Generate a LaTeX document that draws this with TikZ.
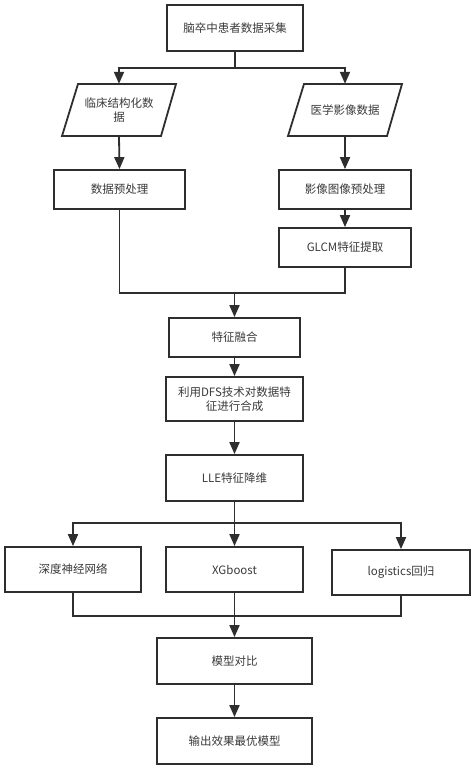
\documentclass[tikz,border=0pt]{standalone}
\usepackage{fontspec}
\setmainfont{Noto Sans CJK SC}
\usetikzlibrary{arrows.meta}
\definecolor{ink}{HTML}{2E2E2E}
\definecolor{txt}{HTML}{3A3A3A}
\begin{document}
\begin{tikzpicture}[x=1pt,y=-1pt,
  every node/.style={font=\fontsize{11.5}{13.5}\selectfont, text=txt},
  box/.style={draw=ink, line width=1.8pt, align=center, inner sep=0pt},
  para/.style={align=center, inner sep=0pt, minimum width=98pt, minimum height=52pt},
  line/.style={draw=ink, line width=1.8pt},
  arr/.style={line, -{Triangle[length=12pt,width=10pt]}}]
\useasboundingbox (0,0) rectangle (474,770);
\fill[white] (0,0) rectangle (474,770);

\node[box, minimum width=136pt, minimum height=46pt] (top) at (235,28) {脑卒中患者数据采集};

\node[para] (pl) at (119,110) {临床结构化数\\据};
\draw[line, line join=miter] (78,84) -- (176,84) -- (161,136) -- (62,136) -- cycle;
\node[para] (pr) at (345,110) {医学影像数据};
\draw[line, line join=miter] (304,84) -- (402,84) -- (387,136) -- (288,136) -- cycle;

\node[box, minimum width=131pt, minimum height=39pt] (dl) at (119.5,189.5) {数据预处理};
\node[box, minimum width=132pt, minimum height=39pt] (dr) at (345,189.5) {影像图像预处理};
\node[box, minimum width=132pt, minimum height=39pt] (glcm) at (345,247.5) {GLCM特征提取};

\node[box, minimum width=131pt, minimum height=39pt] (fuse) at (234.5,337.5) {特征融合};
\node[box, minimum width=137pt, minimum height=44pt] (dfs) at (234.5,399) {利用DFS技术对数据特\\征进行合成};
\node[box, minimum width=137pt, minimum height=46pt] (lle) at (234.5,478) {LLE特征降维};

\node[box, minimum width=136pt, minimum height=45pt] (nn) at (73,569.5) {深度神经网络};
\node[box, minimum width=137pt, minimum height=45pt] (xg) at (234.5,569.5) {XGboost};
\node[box, minimum width=138pt, minimum height=45pt] (lr) at (401,572.5) {logistics回归};

\node[box, minimum width=155pt, minimum height=46pt] (cmp) at (234.5,661) {模型对比};
\node[box, minimum width=155pt, minimum height=46pt] (out) at (234.5,741) {输出效果最优模型};

\coordinate (s1) at (235,68);
\coordinate (m1) at (234.5,293);
\coordinate (s2) at (234.5,523);
\coordinate (m2) at (234.5,616);

\draw[line] (top.south) -- (s1);
\draw[arr] (s1) -| (pl.north);
\draw[arr] (s1) -| (pr.north);
\draw[arr] (pl.south) -- (dl.north);
\draw[arr] (pr.south) -- (dr.north);
\draw[arr] (dr.south) -- (glcm.north);
\draw[line] (dl.south) |- (m1);
\draw[line] (glcm.south) |- (m1);
\draw[arr] (m1) -- (fuse.north);
\draw[arr] (fuse.south) -- (dfs.north);
\draw[arr] (dfs.south) -- (lle.north);
\draw[line] (lle.south) -- (s2);
\draw[arr] (s2) -| (nn.north);
\draw[arr] (s2) -- (xg.north);
\draw[arr] (s2) -| (lr.north);
\draw[line] (nn.south) |- (m2);
\draw[line] (lr.south) |- (m2);
\draw[line] (xg.south) -- (m2);
\draw[arr] (m2) -- (cmp.north);
\draw[arr] (cmp.south) -- (out.north);
\end{tikzpicture}
\end{document}
